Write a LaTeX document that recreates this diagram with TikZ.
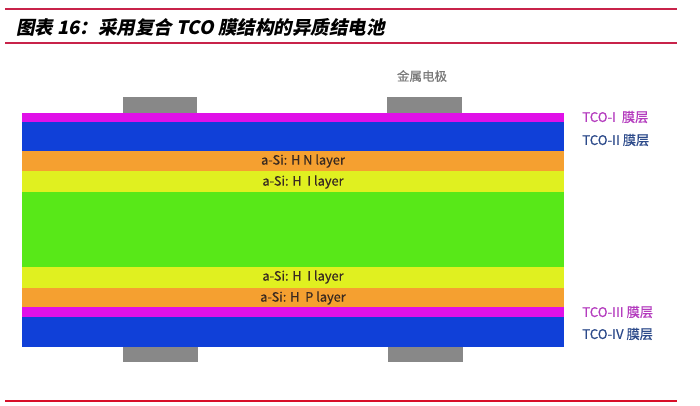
\documentclass[tikz,border=0pt]{standalone}
\usepackage{fontspec}
\setmainfont{Liberation Sans}
\newfontfamily\cjk[FakeBold=0.6]{Noto Sans CJK SC}
\newfontfamily\titlefont[FakeSlant=0.2]{Noto Sans CJK SC}
\usepackage{tikz}
\usetikzlibrary{positioning, calc}
\usepackage{xcolor}
\definecolor{xline}{HTML}{C8234A}
\definecolor{xbotline}{HTML}{D8102A}
\definecolor{xmagenta}{HTML}{E010E8}
\definecolor{xblue}{HTML}{1040D8}
\definecolor{xorange}{HTML}{F5A030}
\definecolor{xyellow}{HTML}{E0F020}
\definecolor{xgreen}{HTML}{58E818}
\definecolor{xgray}{HTML}{888888}
\definecolor{xlabpink}{HTML}{B43CBE}
\definecolor{xlabblue}{HTML}{2C4A8A}
\definecolor{xtext}{HTML}{3A2A20}
\tikzset{
	layer/.style={inner sep=0pt, font=\cjk\fontsize{12.8}{12.8}\selectfont, text=xtext},
	tcolabel/.style={anchor=west, inner sep=0pt, font=\cjk\fontsize{13.2}{13.2}\selectfont},
	electrode/.style={fill=xgray},
	rule/.style={line width=2pt},
}

\begin{document}
\begin{tikzpicture}[x=1pt, y=-1pt]
			\useasboundingbox (0,0) rectangle (700,406);

			\draw[rule, xline] (5,9) -- (677,9);
			\draw[rule, xline, line width=1.6pt] (5,43) -- (677,43);
			\draw[rule, xbotline, line width=1.6pt] (5,401) -- (677,401);
			\node[anchor=west, inner sep=0pt, font=\titlefont\bfseries\fontsize{18.5}{18.5}\selectfont] (title) at (16,27) {图表 16：采用复合 TCO 膜结构的异质结电池};

			% layers
			\fill[xmagenta] (22,113) rectangle (564,122);
			\fill[xblue] (22,122) rectangle (564,151);
			\fill[xorange] (22,151) rectangle (564,171);
			\fill[xyellow] (22,171) rectangle (564,192);
			\fill[xgreen] (22,192) rectangle (564,267);
			\fill[xyellow] (22,267) rectangle (564,288);
			\fill[xorange] (22,288) rectangle (564,307);
			\fill[xmagenta] (22,307) rectangle (564,317);
			\fill[xblue] (22,317) rectangle (564,347);

			% electrodes
			\fill[electrode] (123,97) rectangle (197,113);
			\fill[electrode] (387,97) rectangle (462,113);
			\fill[electrode] (123,347) rectangle (198,362);
			\fill[electrode] (388,347) rectangle (463,362);
			\node[font=\cjk\fontsize{12.5}{12.5}\selectfont, text=xgray!90!black, inner sep=0pt] (metal) at (422,76) {金属电极};

			\node[layer] (L1) at (303,161) {a-Si: H N layer};
			\node[layer] (L2) at (303,182) {a-Si: H\ \ I layer};
			\node[layer] (L3) at (303,277) {a-Si: H\ \ I layer};
			\node[layer] (L4) at (303,298) {a-Si: H\ \ P layer};

			\node[tcolabel, text=xlabpink] (T1) at (582,117) {TCO-I\ \ 膜层};
			\node[tcolabel, text=xlabblue] (T2) at (582,140) {TCO-II 膜层};
			\node[tcolabel, text=xlabpink] (T3) at (582,312) {TCO-III 膜层};
			\node[tcolabel, text=xlabblue] (T4) at (582,334) {TCO-IV 膜层};
		\end{tikzpicture}
\end{document}
